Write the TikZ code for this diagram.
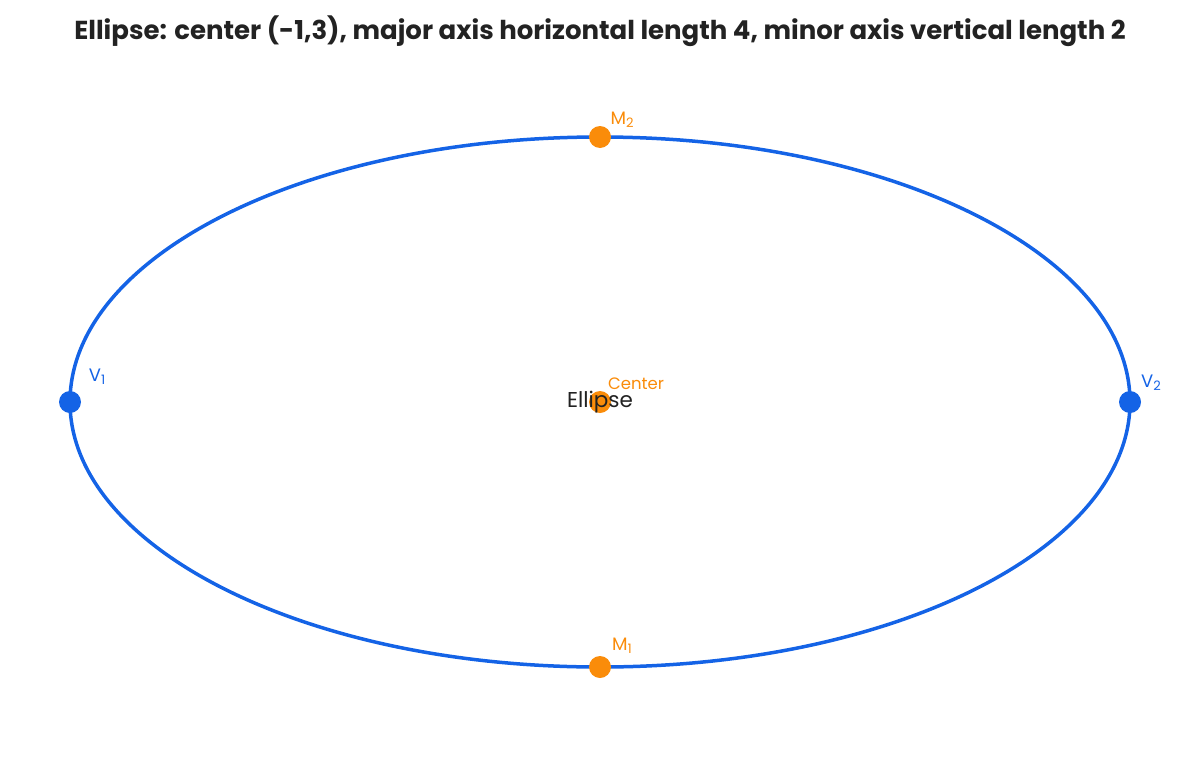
\documentclass[tikz,border=0pt]{standalone}
\usepackage{fontspec}
\setmainfont{Poppins}
\definecolor{eblue}{HTML}{1463E6}
\definecolor{eorange}{HTML}{FA8C0A}
\definecolor{etext}{HTML}{222222}
\newcommand{\subsc}[1]{\raisebox{-0.15em}{\fontsize{13}{13}\selectfont #1}}
\begin{document}
\begin{tikzpicture}[x=1pt,y=-1pt,
  dotb/.style={circle,fill=eblue,inner sep=0pt,minimum size=22pt},
  doto/.style={circle,fill=eorange,inner sep=0pt,minimum size=22pt},
  lblb/.style={text=eblue,font=\fontsize{18}{18}\selectfont,inner sep=0pt},
  lblo/.style={text=eorange,font=\fontsize{18}{18}\selectfont,inner sep=0pt}]
\useasboundingbox (0,0) rectangle (1200,763);
\node[font=\fontsize{26}{30}\selectfont\bfseries,text=etext] (title) at (600,31) {Ellipse: center (-1,3), major axis horizontal length 4, minor axis vertical length 2};
\draw[eblue,line width=3.5pt] (600,402) ellipse [x radius=530, y radius=265];
\node[doto] (c) at (600,402) {};
\node[dotb] (v1) at (70,402) {};
\node[dotb] (v2) at (1130,402) {};
\node[doto] (m2) at (600,137) {};
\node[doto] (m1) at (600,667) {};
\node[lblb] (lv1) at (97,377) {V\subsc{1}};
\node[lblb] (lv2) at (1151,383) {V\subsc{2}};
\node[lblo] (lm2) at (622,120) {M\subsc{2}};
\node[lblo] (lm1) at (622,646) {M\subsc{1}};
\node[lblo,anchor=west,font=\fontsize{16.5}{17}\selectfont] (lc) at (608,384) {Center};
\node[text=etext,font=\fontsize{21.5}{22}\selectfont,inner sep=0pt] (ell) at (600,402) {Ellipse};
\end{tikzpicture}
\end{document}
